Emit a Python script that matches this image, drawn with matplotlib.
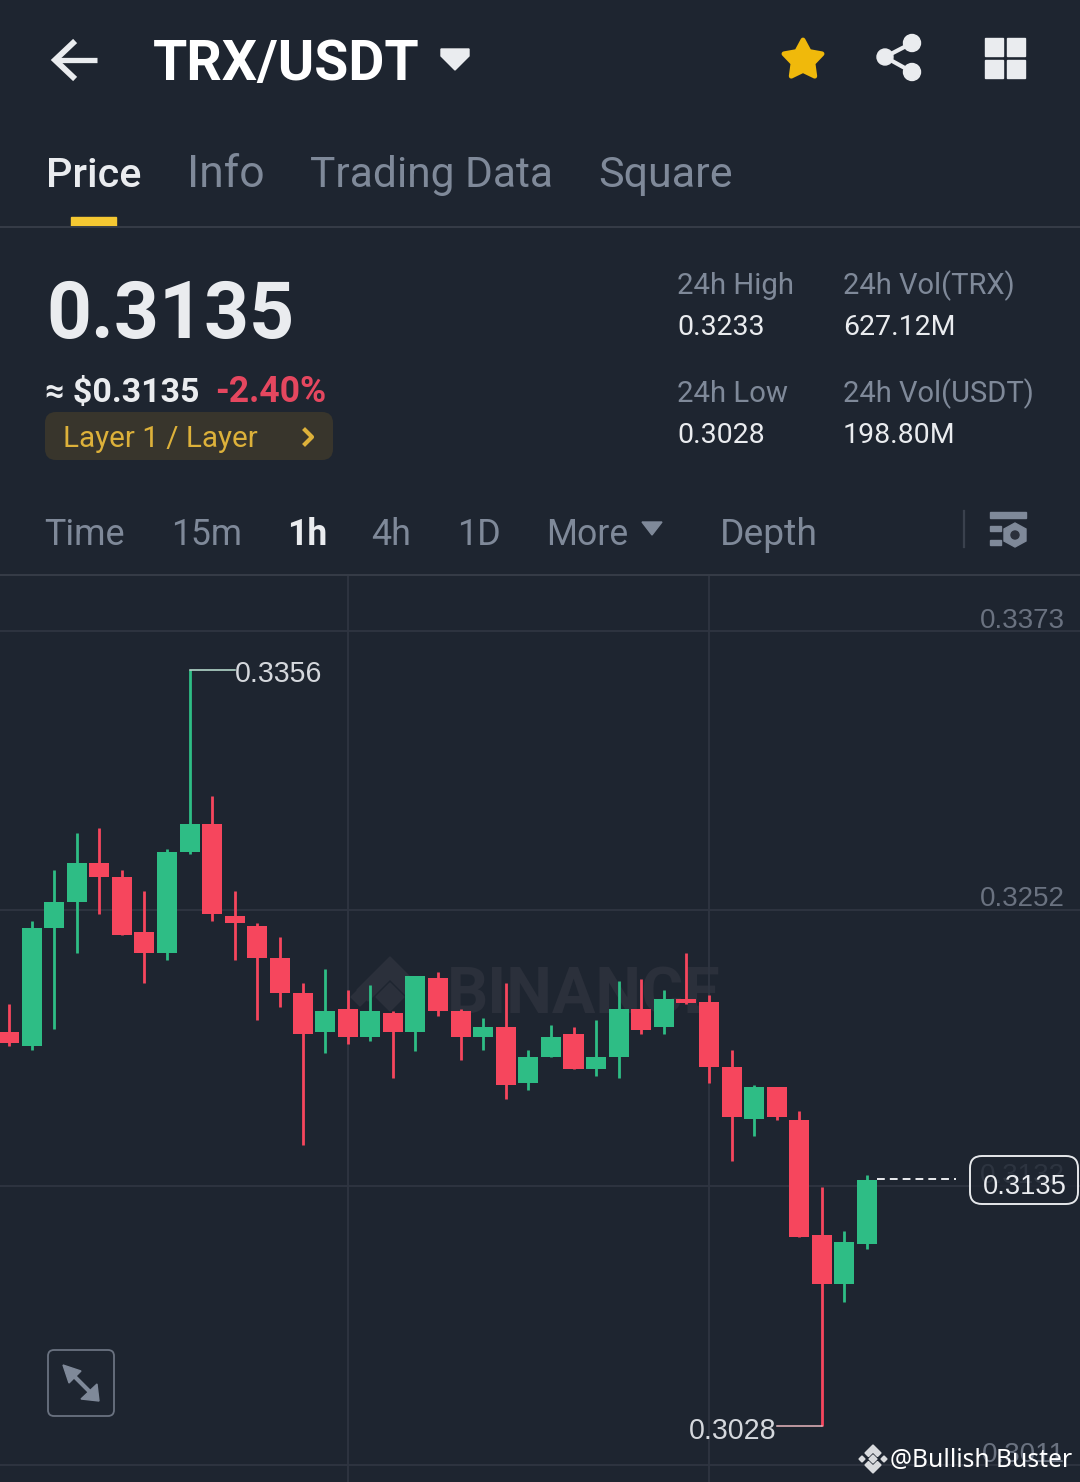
import matplotlib
matplotlib.use("Agg")
import matplotlib.pyplot as plt
import numpy as np
from matplotlib.patches import Circle, FancyBboxPatch, Polygon, Rectangle

BG = "#1E2530"
GRID = "#2F3541"
GREEN = "#2EBD85"
RED = "#F6465D"
WHITE = "#EAECEF"
GREY = "#7F8999"
AXIS = "#6A7280"

opens = [0.31991, 0.31930, 0.32442, 0.32552, 0.32723, 0.32662, 0.32422, 0.32331, 0.32772, 0.32892,
         0.32493, 0.32451, 0.32312, 0.32160, 0.31991, 0.32090, 0.31969, 0.32070, 0.31991, 0.32222,
         0.32080, 0.31969, 0.32010, 0.31769, 0.31879, 0.31979, 0.31829, 0.31879, 0.32090, 0.32010,
         0.32131, 0.32121, 0.31839, 0.31610, 0.31749, 0.31609, 0.31107, 0.30897, 0.31068]
closes = [0.31940, 0.32442, 0.32552, 0.32723, 0.32662, 0.32412, 0.32331, 0.32772, 0.32892, 0.32502,
          0.32461, 0.32312, 0.32160, 0.31981, 0.32080, 0.31969, 0.32080, 0.31991, 0.32232, 0.32080,
          0.31969, 0.32010, 0.31759, 0.31879, 0.31969, 0.31829, 0.31879, 0.32090, 0.31999, 0.32131,
          0.32116, 0.31839, 0.31619, 0.31749, 0.31619, 0.31098, 0.30897, 0.31076, 0.31347]
highs = [0.32111, 0.32471, 0.32693, 0.32852, 0.32874, 0.32693, 0.32603, 0.32782, 0.33560, 0.33014,
         0.32603, 0.32461, 0.32400, 0.32201, 0.32261, 0.32172, 0.32192, 0.32080, 0.32232, 0.32251,
         0.32090, 0.32050, 0.32202, 0.31910, 0.32020, 0.32010, 0.32040, 0.32211, 0.32221, 0.32172,
         0.32331, 0.32150, 0.31910, 0.31758, 0.31749, 0.31648, 0.31316, 0.31127, 0.31367]
lows = [0.31930, 0.31910, 0.32001, 0.32331, 0.32502, 0.32412, 0.32201, 0.32302, 0.32762, 0.32471,
        0.32302, 0.32041, 0.32099, 0.31499, 0.31899, 0.31938, 0.31950, 0.31791, 0.31908, 0.32060,
        0.31869, 0.31910, 0.31698, 0.31737, 0.31879, 0.31829, 0.31798, 0.31790, 0.31979, 0.31979,
        0.32111, 0.31768, 0.31429, 0.31539, 0.31609, 0.31098, 0.30280, 0.30816, 0.31047]
price_ticks = [0.3373, 0.3252, 0.3132, 0.3011]
time_grid = [15, 31]
high_label = 0.3356
low_label = 0.3028
last_price = 0.3135

plt.rcParams["font.family"] = ["Roboto", "DejaVu Sans"]

fig = plt.figure(figsize=(10.8, 14.82), dpi=100, facecolor=BG)


def px_axes(zorder):
    a = fig.add_axes([0, 0, 1, 1], zorder=zorder)
    a.set_xlim(0, 1080)
    a.set_ylim(1482, 0)
    a.axis("off")
    a.patch.set_alpha(0)
    return a


back = px_axes(0)
ui = px_axes(2)

# chart area starts under the interval row, y 576 to 1482 in pixels
ax = fig.add_axes([0, 0, 1, 906 / 1482], zorder=1)
ax.patch.set_alpha(0)
px_per_bar = 22.58
px_per_price = 834 / (0.3373 - 0.3011)
ax.set_xlim(-9 / px_per_bar, 1071 / px_per_bar)
ax.set_ylim(0.3373 - 851 / px_per_price, 0.3373 + 55 / px_per_price)
for s in ax.spines.values():
    s.set_visible(False)
ax.set_xticks(time_grid)
ax.set_yticks(price_ticks)
ax.tick_params(length=0, labelbottom=False, labelleft=False)
ax.grid(True, color=GRID, lw=1.3)
ax.set_axisbelow(True)

# watermark behind the candles
back.text(447, 1014, "BINANCE", color="#2B303B", fontsize=46.5, fontweight="bold", va="baseline")
back.add_patch(Polygon([(390, 957), (423, 990), (412, 1001), (390, 979), (368, 1001), (357, 990)], color="#2B303B"))
back.add_patch(Polygon([(390, 983), (404, 997), (390, 1011), (376, 997)], color="#2B303B"))
back.add_patch(Polygon([(360, 988), (369, 997), (360, 1006), (351, 997)], color="#2B303B"))

for i in range(len(opens)):
    up = closes[i] >= opens[i]
    col = GREEN if up else RED
    ax.vlines(i, lows[i], highs[i], color=col, lw=2.0, zorder=3)
    ax.bar(i, abs(closes[i] - opens[i]), bottom=min(opens[i], closes[i]), width=0.886, color=col, zorder=4)

# high / low callouts
hi_i = highs.index(max(highs))
lo_i = lows.index(min(lows))
ax.plot([hi_i, hi_i + 2], [max(highs), max(highs)], color="#BFE6D6", lw=1.1, zorder=3)
ax.annotate(f"{high_label:.4f}", (hi_i + 2, high_label), xytext=(0, -2.5), textcoords="offset points",
            color="#D5D8DD", fontsize=20.6, family="Liberation Sans", va="center", ha="left")
ax.plot([lo_i - 2, lo_i], [min(lows), min(lows)], color="#E8B6BE", lw=1.1, zorder=3)
ax.annotate(f"{low_label:.4f}", (lo_i - 2, low_label), xytext=(0, -3.5), textcoords="offset points",
            color="#D5D8DD", fontsize=20.6, family="Liberation Sans", va="center", ha="right")

# price labels sit just above their grid line
for p in price_ticks:
    ax.annotate(f"{p:.4f}", (1065, p), xycoords=("figure pixels", "data"), xytext=(0, -1.8), textcoords="offset points",
                color=AXIS, fontsize=20, family="Liberation Sans", ha="right", va="bottom")

# last price line and box
ax.plot([38.45, 41.95], [last_price, last_price], color=WHITE, lw=1.4, ls=(0, (4, 2.6)), zorder=3)
ui.add_patch(FancyBboxPatch((970, 1156), 108, 48, boxstyle="round,pad=0,rounding_size=12",
                            fc=BG, ec="none", alpha=0.8))
ui.add_patch(FancyBboxPatch((970, 1156), 108, 48, boxstyle="round,pad=0,rounding_size=12",
                            fc="none", ec="#E6E8EB", lw=1.4))
ui.text(1025, 1187, f"{last_price:.4f}", color=WHITE, fontsize=19.6, family="Liberation Sans", ha="center", va="center")

# top bar
ui.plot([97, 56], [60, 60], color=WHITE, lw=3.8, solid_capstyle="butt")
ui.plot([73, 55, 73], [43, 60, 77], color=WHITE, lw=4.2, solid_joinstyle="miter")
ui.text(153, 80, "TRX/USDT", color="white", fontsize=40, fontweight="bold", va="baseline")
ui.add_patch(Polygon([(441, 49), (469, 49), (469, 56), (455, 70), (441, 56)], color=WHITE))
star_ang = np.pi / 2 + np.arange(10) * np.pi / 5
star_rad = np.where(np.arange(10) % 2 == 0, 20, 10.5)
ui.add_patch(Polygon(np.column_stack([803 + star_rad * np.cos(star_ang), 60 - star_rad * np.sin(star_ang)]),
                     fc="#F0B90B", ec="#F0B90B", lw=3.5, joinstyle="round"))
ui.plot([912, 885, 912], [43, 57, 72], color=WHITE, lw=3)
ui.add_patch(Circle((885, 57), 8, color=WHITE))
ui.add_patch(Circle((912, 43), 8.5, color=WHITE))
ui.add_patch(Circle((912, 72), 8.5, color=WHITE))
for x0 in [985, 1007]:
    for y0 in [38, 60]:
        ui.add_patch(Rectangle((x0, y0), 18, 18, color=WHITE))

# tabs
ui.text(46, 187, "Price", color=WHITE, fontsize=29.8, fontweight="medium", va="baseline")
ui.text(187, 187, "Info", color=GREY, fontsize=32, va="baseline")
ui.text(310, 187, "Trading Data", color=GREY, fontsize=30.6, va="baseline")
ui.text(598, 187, "Square", color=GREY, fontsize=31, va="baseline")
ui.add_patch(Rectangle((71, 217), 45, 9, color="#F5C832"))
ui.plot([0, 1080], [227, 227], color="#363C47", lw=1.4)

# price block
ui.text(46, 338, "0.3135", color=WHITE, fontsize=56.6, fontweight="bold", va="baseline")
ui.text(45, 402, "≈ $0.3135", color=WHITE, fontsize=24.4, fontweight="bold", va="baseline")
ui.text(215, 402, "-2.40%", color="#E5475F", fontsize=25.6, fontweight="bold", va="baseline")
ui.add_patch(FancyBboxPatch((45, 412), 288, 48, boxstyle="round,pad=0,rounding_size=11", fc="#38352C", ec="none"))
ui.text(63, 447, "Layer 1 / Layer", color="#DDB13A", fontsize=21.3, va="baseline")
ui.plot([305, 312, 305], [430, 437, 444], color="#DDB13A", lw=3)

ui.text(677, 294, "24h High", color=GREY, fontsize=21.2, va="baseline")
ui.text(677, 335, "0.3233", color=WHITE, fontsize=20.5, va="baseline")
ui.text(677, 402, "24h Low", color=GREY, fontsize=21.2, va="baseline")
ui.text(677, 443, "0.3028", color=WHITE, fontsize=20.5, va="baseline")
ui.text(843, 294, "24h Vol(TRX)", color=GREY, fontsize=21, va="baseline")
ui.text(843, 335, "627.12M", color=WHITE, fontsize=20.5, va="baseline")
ui.text(843, 402, "24h Vol(USDT)", color=GREY, fontsize=21, va="baseline")
ui.text(843, 443, "198.80M", color=WHITE, fontsize=20.5, va="baseline")

# interval row
ui.text(44, 545, "Time", color=GREY, fontsize=25.8, va="baseline")
ui.text(171, 545, "15m", color=GREY, fontsize=25.6, va="baseline")
ui.text(287, 545, "1h", color=WHITE, fontsize=25.6, fontweight="bold", va="baseline")
ui.text(371, 545, "4h", color=GREY, fontsize=25.8, va="baseline")
ui.text(457, 545, "1D", color=GREY, fontsize=25.8, va="baseline")
ui.text(546, 545, "More", color=GREY, fontsize=25.6, va="baseline")
ui.add_patch(Polygon([(642, 522), (662, 522), (652, 535)], color=GREY))
ui.text(720, 545, "Depth", color=GREY, fontsize=26.8, va="baseline")
ui.plot([964, 964], [511, 547], color="#3A414D", lw=1.6)
ui.add_patch(Rectangle((990, 512), 36, 6, color=GREY))
ui.add_patch(Rectangle((990, 526), 11, 5, color=GREY))
ui.add_patch(Rectangle((990, 540), 11, 5, color=GREY))
ui.add_patch(Polygon([(1015, 523), (1026, 529), (1026, 541), (1015, 547), (1004, 541), (1004, 529)], color=GREY))
ui.add_patch(Circle((1015, 535), 4, color="#2B303B"))
ui.plot([0, 1080], [575, 575], color="#363C47", lw=1.4)

# expand button
ui.add_patch(FancyBboxPatch((48, 1350), 66, 66, boxstyle="round,pad=0,rounding_size=6", fc="none", ec="#6A7280", lw=1.3))
ui.add_patch(Polygon([(63, 1365), (81, 1371), (69, 1383)], color=GREY))
ui.add_patch(Polygon([(99, 1401), (81, 1399), (97, 1384)], color=GREY))
ui.plot([73, 90], [1375, 1392], color=GREY, lw=3)

# username stamp
stamp = "#D8DADD"
ui.add_patch(Polygon([(873, 1445), (881, 1453), (877.5, 1456.5), (873, 1452), (868.5, 1456.5), (865, 1453)], color=stamp))
ui.add_patch(Polygon([(873, 1473), (881, 1465), (877.5, 1461.5), (873, 1466), (868.5, 1461.5), (865, 1465)], color=stamp))
ui.add_patch(Polygon([(873, 1455), (877, 1459), (873, 1463), (869, 1459)], color=stamp))
ui.add_patch(Polygon([(862, 1456), (865, 1459), (862, 1462), (859, 1459)], color=stamp))
ui.add_patch(Polygon([(884, 1456), (887, 1459), (884, 1462), (881, 1459)], color=stamp))
ui.text(890, 1467, "@Bullish Buster", color="white", fontsize=17.7, family="Noto Sans", va="baseline")

fig.savefig("out.png", dpi=100, facecolor=BG)
